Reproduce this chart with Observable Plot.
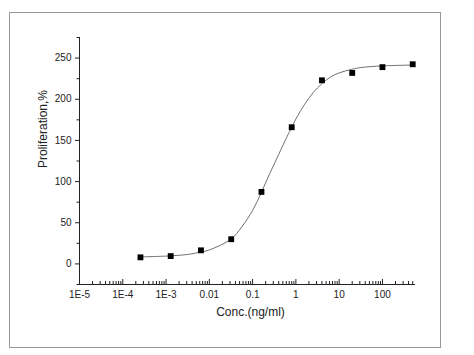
<!DOCTYPE html>
<html>
<head>
<meta charset="utf-8">
<script src="https://cdn.jsdelivr.net/npm/d3@7"></script>
<script src="https://cdn.jsdelivr.net/npm/@observablehq/plot@0.6"></script>
<style>
  html, body { margin: 0; padding: 0; background: #fff; }
  #wrap { position: relative; width: 474px; height: 355px; overflow: hidden; }
  #border { position: absolute; left: 9px; top: 12px; width: 430px; height: 334px; border: 1px solid #999; box-sizing: content-box; }
  #chart { position: absolute; left: 0; top: 0; }
</style>
</head>
<body>
<div id="wrap"><div id="border"></div><div id="chart"></div></div>
<script>
// Measured points (5-fold dilution series)
const conc = [0.000256, 0.00128, 0.0064, 0.032, 0.16, 0.8, 4, 20, 100, 500];
const prolif = [8, 9.5, 16.5, 30, 87.5, 166, 223, 232, 239, 242.5];

// Fitted curve, values
const fitConc = [0.000256, 0.001, 0.00316, 0.0064, 0.01, 0.0316, 0.0562, 0.1, 0.16, 0.25, 0.4, 0.63, 0.8, 1, 1.6, 2.5, 4, 6.3, 10, 20, 31.6, 100, 500];
const fitProlif = [8.5, 9.5, 11.5, 14.5, 17, 30, 45, 65, 87, 110, 133, 155, 166, 176, 194, 208, 219, 227, 232, 236.5, 238.5, 240.5, 241.5];

// Axes
const xDomain = [1e-5, 580];
const yDomain = [-25, 275];
const xMajorTicks = [1e-5, 1e-4, 1e-3, 0.01, 0.1, 1, 10, 100];
const xTickLabels = ["1E-5", "1E-4", "1E-3", "0.01", "0.1", "1", "10", "100"];
const yMajorTicks = [0, 50, 100, 150, 200, 250];
const yMinorTicks = [-25, 25, 75, 125, 175, 225, 275];
const xTitle = "Conc.(ng/ml)";
const yTitle = "Proliferation,%";

const xMinorTicks = [];
for (const d of xMajorTicks) for (let k = 2; k <= 9; k++) {
  const v = d * k;
  if (v <= xDomain[1]) xMinorTicks.push(v);
}
for (let k = 2; k <= 9; k++) if (1000 * k / 10 <= xDomain[1]) {} // (no extra decade)

const points = conc.map((c, i) => ({c, p: prolif[i]}));
const fit = fitConc.map((c, i) => ({c, p: fitProlif[i]}));
const labelOf = new Map(xMajorTicks.map((t, i) => [t, xTickLabels[i]]));

const axisColor = "#222";
const font = "'Liberation Sans', Arial, sans-serif";

const chart = Plot.plot({
  width: 474,
  height: 355,
  marginLeft: 79,
  marginRight: 59,
  marginTop: 37,
  marginBottom: 71,
  style: {fontFamily: font, color: "#222", background: "transparent", overflow: "visible"},
  x: {type: "log", domain: xDomain},
  y: {domain: yDomain},
  marks: [
    // x axis: labels
    Plot.axisX({ticks: xMajorTicks, tickSize: 0, tickPadding: 6, fontSize: 10, tickFormat: d => labelOf.get(d), label: null}),
    // x axis: major ticks pointing up
    Plot.axisX({ticks: xMajorTicks, tickSize: 5, dy: -5, tickFormat: () => "", label: null, stroke: axisColor}),
    // x axis: minor ticks pointing up
    Plot.axisX({ticks: xMinorTicks, tickSize: 3, dy: -3, tickFormat: () => "", label: null, stroke: axisColor}),
    // y axis major
    Plot.axisY({ticks: yMajorTicks, tickSize: 4, tickPadding: 4, fontSize: 10, label: null, stroke: axisColor}),
    // y axis minor
    Plot.axisY({ticks: yMinorTicks, tickSize: 2.5, tickFormat: () => "", label: null, stroke: axisColor}),
    // axis lines
    Plot.ruleX([xDomain[0]], {stroke: axisColor, strokeWidth: 1}),
    Plot.ruleY([yDomain[0]], {stroke: axisColor, strokeWidth: 1}),
    // fitted curve
    Plot.line(fit, {x: "c", y: "p", stroke: "#707070", strokeWidth: 1, curve: "catmull-rom"}),
    // data points
    Plot.dot(points, {x: "c", y: "p", symbol: "square", r: 3.3, fill: "#000", stroke: "none"}),
    // titles
    Plot.text([xTitle], {frameAnchor: "bottom", text: d => d, dy: 31, dx: 3, fontSize: 12, fill: "#222"}),
    Plot.text([yTitle], {frameAnchor: "left", text: d => d, rotate: -90, dx: -36, dy: 7, fontSize: 12, fill: "#222"})
  ]
});
document.getElementById("chart").appendChild(chart);
</script>
</body>
</html>
